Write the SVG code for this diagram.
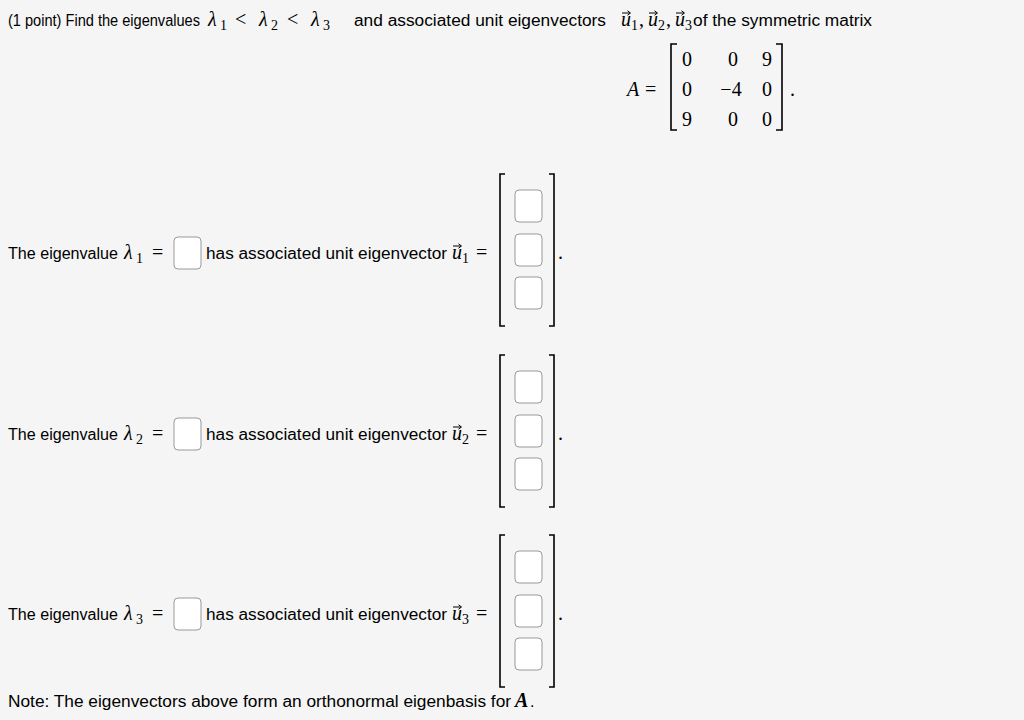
<svg xmlns="http://www.w3.org/2000/svg" width="1024" height="720" viewBox="0 0 1024 720">
<style>
.t{font-family:"Liberation Sans",Arial,sans-serif;font-size:16px;fill:#000}
.m{font-family:"Liberation Serif","Times New Roman",serif;font-size:20px;fill:#000}
.i{font-style:italic}
.s{font-family:"Liberation Serif","Times New Roman",serif;font-size:14px;fill:#000}
.b{fill:#fff;stroke:#999;stroke-width:1}
.k{fill:none;stroke:#000;stroke-width:1.6}
.v{fill:none;stroke:#000;stroke-width:1}
</style>
<defs>
<path id="arr" d="M0 0H8M5.5 -2.2L8.5 0L5.5 2.2" class="v"/>
</defs>
<rect width="1024" height="720" fill="#f5f5f5"/>
<g id="title">
<text class="t" x="8" y="26" textLength="192" lengthAdjust="spacingAndGlyphs">(1 point) Find the eigenvalues</text>
<text class="m i" x="208" y="26">λ</text><text class="s" x="220" y="30">1</text>
<text class="m" x="235" y="26">&lt;</text>
<text class="m i" x="259" y="26">λ</text><text class="s" x="271" y="30">2</text>
<text class="m" x="287" y="26">&lt;</text>
<text class="m i" x="311" y="26">λ</text><text class="s" x="323" y="30">3</text>
<text class="t" x="354" y="26" textLength="252" lengthAdjust="spacingAndGlyphs">and associated unit eigenvectors</text>
<text class="m i" x="621" y="26">u</text><use href="#arr" x="622" y="13"/><text class="s" x="631" y="30">1</text>
<text class="m" x="639" y="26">,</text>
<text class="m i" x="648" y="26">u</text><use href="#arr" x="649" y="13"/><text class="s" x="658" y="30">2</text>
<text class="m" x="666" y="26">,</text>
<text class="m i" x="675" y="26">u</text><use href="#arr" x="676" y="13"/><text class="s" x="685" y="30">3</text>
<text class="t" x="693" y="26" textLength="179" lengthAdjust="spacingAndGlyphs">of the symmetric matrix</text>
</g>
<g id="matrix">
<text class="m i" x="627" y="96">A</text><text class="m" x="645" y="96">=</text>
<path class="k" d="M677 44H671V130H677M776 44H782V130H776"/>
<g class="m" text-anchor="middle">
<text x="687" y="66">0</text><text x="733" y="66">0</text><text x="767" y="66">9</text>
<text x="687" y="96">0</text><text x="731" y="96">−4</text><text x="767" y="96">0</text>
<text x="687" y="126">9</text><text x="733" y="126">0</text><text x="767" y="126">0</text>
</g>
<text class="m" x="790" y="96">.</text>
</g>
<g id="r1">
<text class="t" x="8" y="259" textLength="110" lengthAdjust="spacingAndGlyphs">The eigenvalue</text>
<text class="m i" x="124" y="259">λ</text><text class="s" x="136" y="263">1</text><text class="m" x="152" y="259">=</text>
<rect class="b" x="174" y="237" width="27" height="32" rx="4"/>
<text class="t" x="206" y="259" textLength="241" lengthAdjust="spacingAndGlyphs">has associated unit eigenvector</text>
<text class="m i" x="452" y="259">u</text><use href="#arr" x="453" y="246"/><text class="s" x="462" y="263">1</text><text class="m" x="476" y="259">=</text>
<path class="k" d="M505 174H500V326H505M549 174H554V326H549"/>
<rect class="b" x="515" y="190" width="27" height="32" rx="4"/>
<rect class="b" x="515" y="234" width="27" height="32" rx="4"/>
<rect class="b" x="515" y="277" width="27" height="32" rx="4"/>
<text class="m" x="558" y="259">.</text>
</g>
<g id="r2" transform="translate(0,181)">
<text class="t" x="8" y="259" textLength="110" lengthAdjust="spacingAndGlyphs">The eigenvalue</text>
<text class="m i" x="124" y="259">λ</text><text class="s" x="136" y="263">2</text><text class="m" x="152" y="259">=</text>
<rect class="b" x="174" y="237" width="27" height="32" rx="4"/>
<text class="t" x="206" y="259" textLength="241" lengthAdjust="spacingAndGlyphs">has associated unit eigenvector</text>
<text class="m i" x="452" y="259">u</text><use href="#arr" x="453" y="246"/><text class="s" x="462" y="263">2</text><text class="m" x="476" y="259">=</text>
<path class="k" d="M505 174H500V326H505M549 174H554V326H549"/>
<rect class="b" x="515" y="190" width="27" height="32" rx="4"/>
<rect class="b" x="515" y="234" width="27" height="32" rx="4"/>
<rect class="b" x="515" y="277" width="27" height="32" rx="4"/>
<text class="m" x="558" y="259">.</text>
</g>
<g id="r3" transform="translate(0,361)">
<text class="t" x="8" y="259" textLength="110" lengthAdjust="spacingAndGlyphs">The eigenvalue</text>
<text class="m i" x="124" y="259">λ</text><text class="s" x="136" y="263">3</text><text class="m" x="152" y="259">=</text>
<rect class="b" x="174" y="237" width="27" height="32" rx="4"/>
<text class="t" x="206" y="259" textLength="241" lengthAdjust="spacingAndGlyphs">has associated unit eigenvector</text>
<text class="m i" x="452" y="259">u</text><use href="#arr" x="453" y="246"/><text class="s" x="462" y="263">3</text><text class="m" x="476" y="259">=</text>
<path class="k" d="M505 174H500V326H505M549 174H554V326H549"/>
<rect class="b" x="515" y="190" width="27" height="32" rx="4"/>
<rect class="b" x="515" y="234" width="27" height="32" rx="4"/>
<rect class="b" x="515" y="277" width="27" height="32" rx="4"/>
<text class="m" x="558" y="259">.</text>
</g>
<g id="note">
<text class="t" x="8" y="707" textLength="503" lengthAdjust="spacingAndGlyphs">Note: The eigenvectors above form an orthonormal eigenbasis for</text>
<text class="m i" x="515" y="707" font-weight="bold">A</text><text class="t" x="530" y="707">.</text>
</g>
</svg>
